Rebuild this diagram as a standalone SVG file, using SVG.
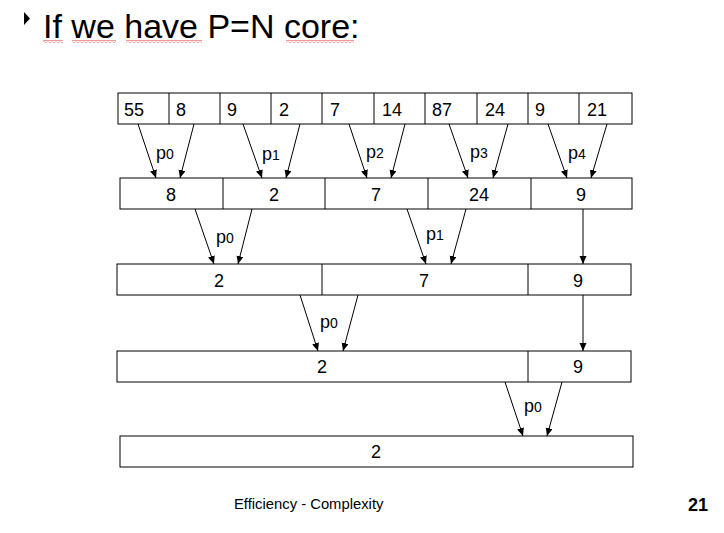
<svg xmlns="http://www.w3.org/2000/svg" width="724" height="533" viewBox="0 0 724 533">
<defs>
<marker id="ah" markerWidth="8" markerHeight="8" refX="8" refY="3.5" orient="auto" markerUnits="userSpaceOnUse">
<path d="M0,0 L8,3.5 L0,7 Z" fill="#000"/>
</marker>
<pattern id="wavy" x="0" y="0" width="4" height="3" patternUnits="userSpaceOnUse">
<path d="M0,2.5 L2,0.5 L4,2.5" fill="none" stroke="#e02020" stroke-width="0.9"/>
</pattern>
<style>
.cell{fill:#fff;stroke:#000;stroke-width:1}
.v{font-family:"Liberation Sans",Arial,sans-serif;font-size:18px;fill:#000}
.c{text-anchor:middle}
.lbl{font-family:"Liberation Sans",Arial,sans-serif;font-size:18px;fill:#000}
.sub{font-size:14px}
.con line{stroke:#000;stroke-width:1;marker-end:url(#ah)}
</style>
</defs>
<rect width="724" height="533" fill="#fff"/>

<g id="title">
<path d="M24,12 L30,18.5 L24,25 Z" fill="#000"/>
<text x="43" y="38" font-family="'Liberation Sans',Arial,sans-serif" font-size="34" fill="#000">If we have P=N core:</text>
<rect x="43" y="40" width="20" height="3" fill="url(#wavy)"/>
<rect x="72" y="40" width="44" height="3" fill="url(#wavy)"/>
<rect x="126" y="40" width="76" height="3" fill="url(#wavy)"/>
<rect x="286" y="40" width="68" height="3" fill="url(#wavy)"/>
</g>

<g id="row1">
<rect class="cell" x="118" y="93" width="514" height="31"/>
<path d="M169,93V124M220,93V124M271,93V124M322,93V124M374,93V124M425,93V124M477,93V124M528,93V124M579,93V124" stroke="#000" stroke-width="1"/>
<text class="v" x="124" y="116">55</text>
<text class="v" x="176" y="116">8</text>
<text class="v" x="227" y="116">9</text>
<text class="v" x="279" y="116">2</text>
<text class="v" x="330" y="116">7</text>
<text class="v" x="382" y="116">14</text>
<text class="v" x="432" y="116">87</text>
<text class="v" x="485" y="116">24</text>
<text class="v" x="535" y="116">9</text>
<text class="v" x="587" y="116">21</text>
</g>

<g id="row2">
<rect class="cell" x="120" y="178" width="512" height="31"/>
<path d="M223,178V209M325,178V209M428,178V209M531,178V209" stroke="#000" stroke-width="1"/>
<text class="v c" x="171" y="201">8</text>
<text class="v c" x="274" y="201">2</text>
<text class="v c" x="376" y="201">7</text>
<text class="v c" x="479" y="201">24</text>
<text class="v c" x="581" y="201">9</text>
</g>

<g id="row3">
<rect class="cell" x="117" y="264" width="514" height="31"/>
<path d="M322,264V295M528,264V295" stroke="#000" stroke-width="1"/>
<text class="v c" x="219" y="287">2</text>
<text class="v c" x="424" y="287">7</text>
<text class="v c" x="578" y="287">9</text>
</g>

<g id="row4">
<rect class="cell" x="117" y="351" width="514" height="31"/>
<path d="M528,351V382" stroke="#000" stroke-width="1"/>
<text class="v c" x="322" y="373">2</text>
<text class="v c" x="578" y="373">9</text>
</g>

<g id="row5">
<rect class="cell" x="120" y="436" width="513" height="31"/>
<text class="v c" x="376" y="458">2</text>
</g>

<g id="connectors" class="con">
<line x1="138" y1="124" x2="156" y2="178"/>
<line x1="194" y1="124" x2="180" y2="178"/>
<line x1="243" y1="124" x2="262" y2="178"/>
<line x1="300" y1="124" x2="286" y2="178"/>
<line x1="349" y1="124" x2="367" y2="178"/>
<line x1="405" y1="124" x2="391" y2="178"/>
<line x1="449" y1="124" x2="468" y2="178"/>
<line x1="508" y1="124" x2="493" y2="178"/>
<line x1="548" y1="124" x2="567" y2="178"/>
<line x1="607" y1="124" x2="591" y2="178"/>

<line x1="195" y1="209" x2="214" y2="264"/>
<line x1="252" y1="209" x2="238" y2="264"/>
<line x1="407" y1="209" x2="426" y2="264"/>
<line x1="466" y1="209" x2="451" y2="264"/>
<line x1="583" y1="209" x2="583" y2="264"/>

<line x1="300" y1="295" x2="318" y2="351"/>
<line x1="358" y1="295" x2="343" y2="351"/>
<line x1="583" y1="295" x2="583" y2="351"/>

<line x1="505" y1="382" x2="523" y2="436"/>
<line x1="562" y1="382" x2="547" y2="436"/>
</g>

<g id="labels">
<text class="lbl" x="156" y="159">p<tspan class="sub">0</tspan></text>
<text class="lbl" x="262" y="160">p<tspan class="sub">1</tspan></text>
<text class="lbl" x="366" y="158">p<tspan class="sub">2</tspan></text>
<text class="lbl" x="470" y="158">p<tspan class="sub">3</tspan></text>
<text class="lbl" x="568" y="159">p<tspan class="sub">4</tspan></text>
<text class="lbl" x="216" y="243">p<tspan class="sub">0</tspan></text>
<text class="lbl" x="426" y="240">p<tspan class="sub">1</tspan></text>
<text class="lbl" x="320" y="328">p<tspan class="sub">0</tspan></text>
<text class="lbl" x="524" y="412">p<tspan class="sub">0</tspan></text>
</g>

<g id="footer">
<text x="234" y="509" font-family="'Liberation Sans',Arial,sans-serif" font-size="14.8" fill="#000">Efficiency - Complexity</text>
<text x="708" y="511" text-anchor="end" font-family="'Liberation Sans',Arial,sans-serif" font-size="18" font-weight="bold" fill="#000">21</text>
</g>
</svg>
